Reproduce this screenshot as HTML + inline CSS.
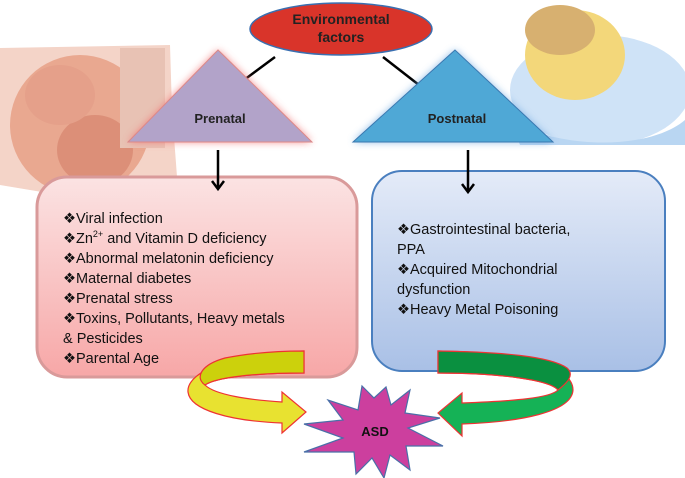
<!DOCTYPE html>
<html><head><style>
body{margin:0;width:685px;height:478px;background:#fff;overflow:hidden}
svg{display:block}
text{font-family:"Liberation Sans",sans-serif}
</style></head><body>
<svg width="685" height="478" viewBox="0 0 685 478">
<defs>
<linearGradient id="pk" x1="0" y1="0" x2="0" y2="1"><stop offset="0" stop-color="#fbe3e3"/><stop offset="1" stop-color="#f7a7a7"/></linearGradient>
<linearGradient id="bl" x1="0" y1="0" x2="0" y2="1"><stop offset="0" stop-color="#e4ebf8"/><stop offset="1" stop-color="#a9c0e6"/></linearGradient>
<filter id="gl" x="-20%" y="-20%" width="140%" height="140%"><feGaussianBlur stdDeviation="4"/></filter>
</defs>
<!-- fetus image placeholder -->
<path d="M0,48 L170,45 L172,110 L178,190 L60,195 L0,185 Z" fill="#f4d4c8"/>
<ellipse cx="80" cy="125" rx="70" ry="70" fill="#e9a890"/>
<ellipse cx="95" cy="150" rx="38" ry="35" fill="#dc8f78"/>
<ellipse cx="60" cy="95" rx="35" ry="30" fill="#e5a08a"/>
<rect x="120" y="48" width="45" height="100" fill="#e8c2b4"/>
<!-- baby placeholder -->
<ellipse cx="600" cy="90" rx="90" ry="55" fill="#cfe3f7"/>
<ellipse cx="575" cy="55" rx="50" ry="45" fill="#f3d77a"/>
<ellipse cx="560" cy="30" rx="35" ry="25" fill="#d7b070"/>
<path d="M510,120 C560,150 650,150 685,120 L685,145 L520,145 Z" fill="#b9d6f2"/>
<!-- connector lines -->
<line x1="275" y1="57" x2="240" y2="83" stroke="#000" stroke-width="2.5"/>
<line x1="383" y1="57" x2="428" y2="92" stroke="#000" stroke-width="2.5"/>
<!-- triangles -->
<polygon points="218,50 128,142 312,142" fill="#f07070" filter="url(#gl)" opacity="0.8"/>
<polygon points="218,50 128,142 312,142" fill="#b2a3c9" stroke="#d88" stroke-width="1"/>
<polygon points="455,50 353,142 553,142" fill="#6fa8e0" filter="url(#gl)" opacity="0.8"/>
<polygon points="455,50 353,142 553,142" fill="#4fa8d6" stroke="#3a78b0" stroke-width="1"/>
<text x="220" y="123" font-size="13" font-weight="bold" text-anchor="middle" fill="#222">Prenatal</text>
<text x="457" y="123" font-size="13" font-weight="bold" text-anchor="middle" fill="#222">Postnatal</text>
<!-- ellipse -->
<ellipse cx="341" cy="29" rx="91" ry="26" fill="#d9342a" stroke="#3a6fb0" stroke-width="1.5"/>
<text x="341" y="24" font-size="14" font-weight="bold" text-anchor="middle" fill="#222">Environmental</text>
<text x="341" y="42" font-size="14" font-weight="bold" text-anchor="middle" fill="#222">factors</text>
<!-- boxes -->
<rect x="37" y="177" width="320" height="200" rx="30" fill="url(#pk)" stroke="#d99a9a" stroke-width="3"/>
<rect x="372" y="171" width="293" height="200" rx="30" fill="url(#bl)" stroke="#4a7fbf" stroke-width="2"/>
<!-- down arrows -->
<line x1="218" y1="150" x2="218" y2="187" stroke="#000" stroke-width="2.5"/>
<path d="M212,181 L218,189 L224,181" fill="none" stroke="#000" stroke-width="2.5"/>
<line x1="468" y1="150" x2="468" y2="190" stroke="#000" stroke-width="2.5"/>
<path d="M462,184 L468,192 L474,184" fill="none" stroke="#000" stroke-width="2.5"/>
<!-- text -->
<g font-size="14.5" fill="#111">
<text x="63" y="223">❖Viral infection</text>
<text x="63" y="243">❖Zn<tspan font-size="9" dy="-6">2+</tspan><tspan dy="6"> and Vitamin D deficiency</tspan></text>
<text x="63" y="263">❖Abnormal melatonin deficiency</text>
<text x="63" y="283">❖Maternal diabetes</text>
<text x="63" y="303">❖Prenatal stress</text>
<text x="63" y="323">❖Toxins, Pollutants, Heavy metals</text>
<text x="63" y="343">&amp; Pesticides</text>
<text x="63" y="363">❖Parental Age</text>
<text x="397" y="234">❖Gastrointestinal  bacteria,</text>
<text x="397" y="254">PPA</text>
<text x="397" y="274">❖Acquired Mitochondrial</text>
<text x="397" y="294">dysfunction</text>
<text x="397" y="314">❖Heavy Metal Poisoning</text>
</g>
<!-- yellow arrow -->
<path d="M304,351 L304,373 C250,373 215,378 205,385 C215,395 250,400 282,402 L282,392 L306,412 L282,433 L282,423 C230,421 190,410 188,392 C186,370 240,352 304,351 Z" fill="#e8e230" stroke="#e33" stroke-width="1.2"/>
<path d="M304,351 L304,373 C250,373 215,378 205,385 C195,378 200,365 225,358 C250,353 280,351 304,351 Z" fill="#ccd10c" stroke="#e33" stroke-width="1.2"/>
<!-- green arrow -->
<path d="M438,351 L438,373 C500,373 550,380 558,390 C550,398 515,401 462,403 L462,393 L438,413 L462,436 L462,424 C520,422 572,412 573,390 C573,365 515,352 438,351 Z" fill="#15b256" stroke="#e33" stroke-width="1.2"/>
<path d="M438,351 L438,373 C500,373 550,380 558,390 C567,383 575,375 567,368 C550,356 500,352 438,351 Z" fill="#0a9040" stroke="#e33" stroke-width="1.2"/>
<!-- star -->
<polygon points="374,398 386,387 391,405 410,390 405,413 440,418 408,428 443,446 406,446 410,470 390,455 384,478 372,458 356,474 354,452 304,452 343,438 304,424 343,420 328,400 358,410 362,386" fill="#cc3f9e" stroke="#4a6fa8" stroke-width="1.2"/>
<text x="375" y="436" font-size="13" font-weight="bold" text-anchor="middle" fill="#111">ASD</text>
</svg>
</body></html>
